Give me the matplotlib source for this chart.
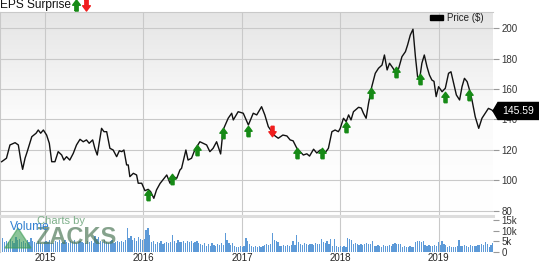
import numpy as np
import pandas as pd
import matplotlib
matplotlib.use("Agg")
import matplotlib.pyplot as plt
import matplotlib.dates as mdates
from matplotlib.path import Path
from matplotlib.patches import Patch, Polygon
from matplotlib.lines import Line2D
from matplotlib.colors import LinearSegmentedColormap

plt.rcParams['font.family'] = ['Liberation Sans', 'DejaVu Sans']

# --- price (weekly-ish closes) ---
price_dates = [
    "2014-07-24", "2014-08-11", "2014-08-24", "2014-09-12", "2014-09-24", "2014-10-03",
    "2014-10-10", "2014-10-19", "2014-10-27", "2014-11-13", "2014-11-29", "2014-12-07",
    "2014-12-16", "2014-12-26", "2015-01-07", "2015-01-17", "2015-01-26", "2015-02-07",
    "2015-02-19", "2015-03-04", "2015-03-12", "2015-03-22", "2015-04-03", "2015-04-16",
    "2015-04-28", "2015-05-11", "2015-05-23", "2015-06-04", "2015-06-14", "2015-06-27",
    "2015-07-05", "2015-07-14", "2015-07-24", "2015-07-30", "2015-08-08", "2015-08-18",
    "2015-08-30", "2015-09-11", "2015-09-24", "2015-10-04", "2015-10-13", "2015-10-21",
    "2015-10-31", "2015-11-06", "2015-11-12", "2015-11-25", "2015-12-07", "2015-12-13",
    "2015-12-26", "2016-01-07", "2016-01-19", "2016-01-28", "2016-02-09", "2016-02-19",
    "2016-03-03", "2016-03-28", "2016-04-09", "2016-04-21", "2016-05-04", "2016-05-16",
    "2016-05-22", "2016-06-07", "2016-06-15", "2016-06-28", "2016-07-10", "2016-07-29",
    "2016-08-23", "2016-09-04", "2016-09-16", "2016-09-29", "2016-10-14", "2016-10-23",
    "2016-11-11", "2016-11-24", "2016-11-30", "2016-12-18", "2017-01-06", "2017-01-25",
    "2017-02-12", "2017-02-25", "2017-03-15", "2017-03-27", "2017-04-09", "2017-04-22",
    "2017-05-04", "2017-05-16", "2017-06-02", "2017-06-17", "2017-06-29", "2017-07-10",
    "2017-07-24", "2017-08-05", "2017-08-17", "2017-08-30", "2017-09-09", "2017-09-24",
    "2017-10-06", "2017-10-19", "2017-11-06", "2017-11-18", "2017-12-01", "2017-12-13",
    "2017-12-25", "2018-01-01", "2018-01-13", "2018-01-23", "2018-02-01", "2018-02-10",
    "2018-02-19", "2018-03-10", "2018-03-20", "2018-03-28", "2018-04-07", "2018-04-16",
    "2018-04-28", "2018-05-11", "2018-05-23", "2018-06-05", "2018-06-14", "2018-06-24",
    "2018-07-03", "2018-07-16", "2018-07-24", "2018-08-06", "2018-08-18", "2018-08-31",
    "2018-09-08", "2018-09-18", "2018-09-28", "2018-10-07", "2018-10-15", "2018-10-23",
    "2018-10-31", "2018-11-09", "2018-11-19", "2018-11-28", "2018-12-07", "2018-12-15",
    "2018-12-23", "2019-01-01", "2019-01-14", "2019-01-26", "2019-02-07", "2019-02-16",
    "2019-02-26", "2019-03-08", "2019-03-20", "2019-03-29", "2019-04-07", "2019-04-17",
    "2019-04-26", "2019-05-05", "2019-05-17", "2019-05-30", "2019-06-11", "2019-06-23",
    "2019-07-05", "2019-07-18", "2019-07-22",
]
price_values = [
    112.3, 114.6, 123.3, 124.8, 123.3, 113.4,
    107.3, 114.6, 118.9, 128.7, 131.0, 133.1,
    131.0, 133.1, 129.8, 124.4, 112.3, 112.3,
    118.9, 116.7, 113.4, 115.6, 113.4, 117.8,
    123.3, 127.0, 125.4, 126.6, 124.4, 126.6,
    121.1, 116.7, 127.7, 134.2, 132.0, 132.0,
    121.1, 120.0, 115.6, 119.5, 118.9, 120.0,
    110.2, 110.2, 102.5, 104.7, 103.6, 98.2,
    98.2, 93.3, 94.2, 92.7, 88.3, 93.8,
    98.0, 103.6, 98.2, 102.5, 101.4, 106.9,
    108.0, 120.0, 113.4, 114.6, 120.0, 125.4,
    123.3, 118.9, 121.1, 125.4, 117.4, 133.1,
    140.8, 144.1, 139.7, 145.1, 144.1, 136.4,
    144.1, 143.0, 148.4, 143.0, 135.3, 132.0,
    129.2, 127.7, 129.8, 129.2, 126.6, 126.0,
    121.1, 118.9, 116.7, 117.5, 116.0, 120.5,
    118.0, 120.0, 118.2, 121.1, 132.0, 133.1,
    132.0, 134.2, 140.8, 138.6, 143.0, 139.7,
    145.1, 148.0, 147.5, 144.1, 140.8, 150.6,
    161.5, 170.3, 173.6, 175.7, 182.3, 172.5,
    176.9, 173.6, 171.3, 173.6, 181.2, 184.5,
    188.9, 195.4, 199.2, 181.2, 168.1, 167.0,
    176.9, 182.3, 174.6, 169.2, 165.9, 165.0,
    155.0, 161.5, 158.2, 160.5, 170.3, 171.3,
    163.7, 156.1, 152.8, 161.5, 167.0, 164.8,
    159.3, 152.8, 141.8, 134.2, 140.8, 144.1,
    147.3, 146.2, 145.59,
]

# --- EPS surprise markers (date, level where the arrow sits) ---
beat_dates = ["2016-01-18", "2016-04-18", "2016-07-18", "2016-10-23", "2017-01-22",
              "2017-07-24", "2017-10-25", "2018-01-23", "2018-04-25", "2018-07-27",
              "2018-10-23", "2019-01-23", "2019-04-25"]
beat_levels = [90.5, 101.0, 119.7, 131.1, 132.3, 118.2, 117.8, 135.3, 157.6, 171.0,
               166.6, 155.0, 156.1]
miss_dates = ["2017-04-24"]
miss_levels = [132.7]

# --- weekly volume, thousands ---
vol_start = "2014-07-21"
volume = [
    # 2014 H2
    5.5, 6.5, 4.8, 5.2, 4.5, 6.0, 5.0, 4.2, 7.0, 5.8, 6.2, 4.6,
    5.0, 4.4, 5.5, 4.8, 6.6, 5.2, 4.5, 4.0, 5.0, 4.2, 3.8, 4.5,
    # 2015
    5.2, 4.6, 5.8, 4.4, 4.0, 5.0, 4.8, 5.5, 4.2, 4.6, 5.4, 4.9,
    4.3, 5.0, 4.7, 5.6, 4.1, 4.5, 5.2, 4.8, 4.0, 4.4, 5.3, 4.6, 5.0, 4.2,
    7.6, 6.2, 7.2, 5.0,
    4.5, 5.4, 4.8, 4.2, 5.0, 5.8, 4.4, 4.9, 5.3, 4.6, 5.1, 4.7, 5.5,
    11.2,
    6.5, 7.3, 5.8, 6.8, 5.2, 7.0, 6.0, 5.4,
    # 2016
    6.0, 10.5, 11.4, 8.0,
    4.5, 5.0, 3.8, 4.6, 4.2, 5.2, 3.9, 4.4, 4.8, 4.0, 4.6,
    8.0,
    5.0, 4.3, 5.4, 4.6, 4.8, 5.2, 4.4, 5.0, 4.5, 5.3, 4.2, 4.7, 5.0, 4.4,
    3.8, 3.2, 4.2, 3.0, 3.6, 2.8, 4.0, 3.3, 2.9, 3.6, 3.1, 4.3, 3.4,
    9.0,
    5.5, 4.2, 3.5, 4.4, 3.0, 2.5, 2.2, 2.6,
    # 2017
    2.4, 2.6, 6.7, 5.2, 3.8, 2.6,
    2.5, 2.7, 2.4, 2.6, 2.5, 2.8,
    3.4, 3.6, 3.3, 3.8,
    8.7,
    5.6, 5.3, 4.6,
    3.0, 2.7, 3.2, 2.9, 3.1, 2.6, 3.3,
    5.0,
    3.2, 8.0, 4.6,
    3.8, 3.5, 4.0, 3.6, 3.4, 3.9, 3.7, 3.5, 4.1, 3.6, 3.8,
    6.3,
    4.8, 4.2, 5.0, 3.6,
    5.9,
    3.0, 5.9,
    2.6, 2.4,
    # 2018
    2.6, 2.3, 2.8, 2.5,
    6.7, 5.9, 5.6,
    3.6, 4.0, 3.7, 3.4, 3.9, 3.5, 3.8, 4.1, 3.6, 3.9,
    5.2,
    3.0, 2.6, 3.2, 2.8, 2.5, 3.1, 2.9, 2.7, 3.2, 2.6,
    3.8, 4.0, 3.6, 3.9, 3.7,
    2.4, 2.6, 2.3, 2.5, 2.7, 2.4, 2.5,
    4.8, 5.2, 5.0, 4.6, 5.3,
    3.2, 2.8, 3.5, 2.6, 3.0, 3.4, 2.7,
    # 2019
    4.8, 3.4, 5.0, 3.6, 3.3,
    2.4, 2.6, 2.3, 2.5, 2.4, 2.7,
    5.5,
    3.0, 2.6, 3.2, 2.8, 2.5, 3.1, 2.7, 3.0, 2.9,
    3.5, 3.2, 3.8, 3.4,
    4.8,
    3.6, 2.4, 3.3, 4.0,
]

years = ["2015", "2016", "2017", "2018", "2019"]
price_ticks = [80, 100, 120, 140, 160, 180, 200]
vol_ticks = [0, 5, 10, 15]
vol_labels = ["0", "5k", "10k", "15k"]

green = '#168a16'
red = '#f01e1e'
grid_c = '#c9c9c9'

# arrow marker shapes
up_arrow = Path([(-0.3, -1), (0.3, -1), (0.3, 0.05), (0.7, 0.05), (0, 1),
                 (-0.7, 0.05), (-0.3, 0.05), (-0.3, -1)])
down_arrow = Path([(x, -y) for x, y in up_arrow.vertices])

W, H = 539, 262


def box(l, t, r, b):
    return [l / W, 1 - b / H, (r - l) / W, (b - t) / H]


fig = plt.figure(figsize=(W / 100, H / 100), dpi=100)
ax = fig.add_axes(box(0, 12, 493, 216))
axv = fig.add_axes(box(0, 216, 493, 252), sharex=ax)

pd_dates = pd.to_datetime(price_dates)
ax.plot(pd_dates, price_values, color='#111111', lw=1.0, zorder=3)
ax.plot(pd.to_datetime(beat_dates), beat_levels, ls='none', marker=up_arrow,
        ms=7.5, color=green, mec=green, zorder=4)
ax.plot(pd.to_datetime(miss_dates), miss_levels, ls='none', marker=down_arrow,
        ms=7.5, color=red, mec=red, zorder=4)

# gradient background
cmap = LinearSegmentedColormap.from_list('bg', ['#e5e5e5', '#fbfbfb', '#ffffff'])
ax.imshow(np.linspace(0, 1, 256).reshape(-1, 1), cmap=cmap, extent=[0, 1, 0, 1],
          transform=ax.transAxes, aspect='auto', zorder=0)

xmin, xmax = pd.Timestamp("2014-07-18"), pd.Timestamp("2019-07-22")
ax.set_xlim(xmin, xmax)
ax.set_ylim(76.7, 210.5)
year_dates = pd.to_datetime([y + "-01-01" for y in years])
ax.set_xticks(year_dates)
ax.set_yticks(price_ticks)
ax.grid(color=grid_c, lw=0.8, zorder=1)
ax.set_axisbelow(True)
ax.yaxis.tick_right()
ax.tick_params(axis='y', length=4, color='#999999', pad=2, labelsize=7,
               labelcolor='#333333')
ax.tick_params(axis='x', length=0, labelbottom=False)
for s in ['right', 'bottom']:
    ax.spines[s].set_visible(False)
for s in ['top', 'left']:
    ax.spines[s].set_color(grid_c)

leg = ax.legend(handles=[Patch(color='black', label='Price ($)')], loc='upper right',
                bbox_to_anchor=(486 / 493, 1.005), frameon=False, fontsize=7,
                handlelength=1.3, handleheight=0.55, handletextpad=0.5,
                borderaxespad=0, borderpad=0.2)
for t in leg.get_texts():
    t.set_color('#222222')

# volume bars
vol_dates = pd.date_range(vol_start, periods=len(volume), freq='7D')
axv.bar(vol_dates, volume, width=4.6, color='#5d9ad8', edgecolor='none', zorder=2)
axv.set_ylim(0, 16.9)
axv.set_yticks(vol_ticks)
axv.set_yticklabels(vol_labels)
axv.yaxis.tick_right()
axv.tick_params(axis='y', length=4, color='#999999', pad=2, labelsize=7,
                labelcolor='#333333')
axv.set_xticks(year_dates)
axv.set_xticklabels(years)
axv.tick_params(axis='x', length=0, pad=1, labelsize=7, labelcolor='#222222')
axv.grid(axis='x', color=grid_c, lw=0.8, zorder=1)
axv.set_axisbelow(True)
axv.set_xlim(xmin, xmax)
for s in ['right', 'bottom']:
    axv.spines[s].set_visible(False)
axv.spines['left'].set_color(grid_c)
axv.spines['top'].set_color('#dddddd')
axv.spines['top'].set_linewidth(2.2)

# last price tag
px, py = ax.transData.transform((mdates.date2num(pd_dates[-1]), price_values[-1]))
fy = py / H
tag = Polygon([(493 / W, fy), (498 / W, fy + 8.5 / H), (1.0, fy + 8.5 / H),
               (1.0, fy - 8.5 / H), (498 / W, fy - 8.5 / H)],
              closed=True, transform=fig.transFigure, color='black')
fig.add_artist(tag)
fig.text(518 / W, fy, f"{price_values[-1]:.2f}", color='white', ha='center',
         va='center', fontsize=7.5)

# header
fig.text(0, 1 - 5 / H, 'EPS Surprise', va='center', ha='left', fontsize=8.6,
         color='#111111')
fig.add_artist(Line2D([75.5 / W], [1 - 5 / H], marker=up_arrow, ms=8, color=green,
                      transform=fig.transFigure))
fig.add_artist(Line2D([85.5 / W], [1 - 5 / H], marker=down_arrow, ms=8, color=red,
                      transform=fig.transFigure))

# watermark
fig.add_artist(Polygon([(5 / W, 1 - 248 / H), (31 / W, 1 - 248 / H), (18 / W, 1 - 228 / H)],
                       closed=True, transform=fig.transFigure, color='#3f9e55',
                       alpha=0.6, zorder=5))
fig.text(37 / W, 1 - 220.5 / H, 'Charts by', fontsize=8, color='#7fb08b',
         va='center', ha='left', zorder=5)
fig.text(35 / W, 1 - 238 / H, 'ZACKS', fontsize=17, fontweight='bold',
         color='#4b7656', alpha=0.68, va='center', ha='left', zorder=5)
fig.text(10 / W, 1 - 227 / H, 'Volume', fontsize=8.6, color='#2f7fd0',
         va='center', ha='left', zorder=6)

fig.savefig('out.png', dpi=100)
